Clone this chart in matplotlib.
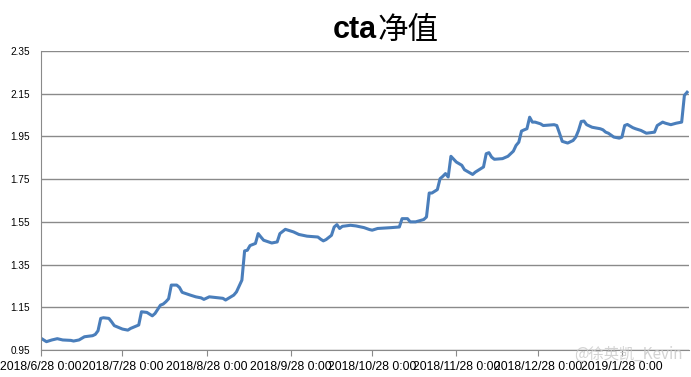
import matplotlib
matplotlib.use("Agg")
import matplotlib.pyplot as plt
import pandas as pd

dates = [
    "2018-06-28", "2018-06-30", "2018-07-02", "2018-07-04", "2018-07-06", "2018-07-09", "2018-07-10",
    "2018-07-12", "2018-07-14", "2018-07-17", "2018-07-18", "2018-07-19", "2018-07-20", "2018-07-21",
    "2018-07-23", "2018-07-24", "2018-07-25", "2018-07-28", "2018-07-30", "2018-07-31", "2018-08-03",
    "2018-08-04", "2018-08-06", "2018-08-08", "2018-08-09", "2018-08-11", "2018-08-12", "2018-08-13",
    "2018-08-14", "2018-08-15", "2018-08-17", "2018-08-18", "2018-08-19", "2018-08-22", "2018-08-24",
    "2018-08-26", "2018-08-27", "2018-08-29", "2018-08-31", "2018-09-03", "2018-09-04", "2018-09-07",
    "2018-09-08", "2018-09-09", "2018-09-10", "2018-09-11", "2018-09-12", "2018-09-13", "2018-09-15",
    "2018-09-16", "2018-09-17", "2018-09-18", "2018-09-21", "2018-09-23", "2018-09-24", "2018-09-26",
    "2018-09-29", "2018-10-01", "2018-10-04", "2018-10-08", "2018-10-09", "2018-10-10", "2018-10-11",
    "2018-10-13", "2018-10-14", "2018-10-15", "2018-10-16", "2018-10-17", "2018-10-20", "2018-10-22",
    "2018-10-25", "2018-10-27", "2018-10-28", "2018-10-30", "2018-11-04", "2018-11-07", "2018-11-08",
    "2018-11-10", "2018-11-11", "2018-11-13", "2018-11-16", "2018-11-17", "2018-11-18", "2018-11-19",
    "2018-11-21", "2018-11-22", "2018-11-23", "2018-11-24", "2018-11-25", "2018-11-26", "2018-11-28",
    "2018-11-30", "2018-12-01", "2018-12-04", "2018-12-05", "2018-12-08", "2018-12-09", "2018-12-10",
    "2018-12-11", "2018-12-12", "2018-12-15", "2018-12-17", "2018-12-19", "2018-12-20", "2018-12-21",
    "2018-12-22", "2018-12-23", "2018-12-24", "2018-12-25", "2018-12-26", "2018-12-27", "2018-12-29",
    "2018-12-30", "2019-01-03", "2019-01-04", "2019-01-05", "2019-01-06", "2019-01-08", "2019-01-10",
    "2019-01-11", "2019-01-12", "2019-01-13", "2019-01-14", "2019-01-15", "2019-01-17", "2019-01-20",
    "2019-01-21", "2019-01-22", "2019-01-23", "2019-01-25", "2019-01-27", "2019-01-28", "2019-01-29",
    "2019-01-30", "2019-02-01", "2019-02-02", "2019-02-04", "2019-02-06", "2019-02-09", "2019-02-10",
    "2019-02-12", "2019-02-13", "2019-02-15", "2019-02-17", "2019-02-19", "2019-02-20", "2019-02-21",
]

nav = [
    1.005, 0.989, 0.997, 1.003, 0.997, 0.995, 0.992,
    0.997, 1.012, 1.017, 1.023, 1.040, 1.098, 1.101,
    1.098, 1.082, 1.064, 1.048, 1.043, 1.051, 1.067,
    1.129, 1.126, 1.110, 1.121, 1.160, 1.165, 1.176,
    1.190, 1.254, 1.254, 1.243, 1.220, 1.207, 1.199,
    1.194, 1.187, 1.199, 1.196, 1.192, 1.184, 1.207,
    1.222, 1.249, 1.277, 1.414, 1.417, 1.439, 1.449,
    1.495, 1.479, 1.464, 1.451, 1.456, 1.495, 1.515,
    1.503, 1.491, 1.483, 1.479, 1.469, 1.461, 1.467,
    1.487, 1.526, 1.537, 1.519, 1.529, 1.534, 1.531,
    1.523, 1.514, 1.511, 1.519, 1.523, 1.526, 1.565,
    1.565, 1.550, 1.550, 1.561, 1.573, 1.685, 1.685,
    1.701, 1.752, 1.763, 1.776, 1.760, 1.857, 1.830,
    1.815, 1.794, 1.772, 1.783, 1.807, 1.869, 1.874,
    1.853, 1.843, 1.846, 1.857, 1.881, 1.908, 1.923,
    1.975, 1.981, 1.986, 2.040, 2.017, 2.017, 2.009,
    2.001, 2.005, 2.001, 1.965, 1.927, 1.919, 1.931,
    1.947, 1.978, 2.020, 2.022, 2.005, 1.993, 1.986,
    1.981, 1.970, 1.965, 1.947, 1.942, 1.947, 2.001,
    2.006, 1.991, 1.986, 1.978, 1.965, 1.970, 2.001,
    2.017, 2.012, 2.005, 2.012, 2.017, 2.142, 2.157,
]

tick_dates = ["2018-06-28", "2018-07-28", "2018-08-28", "2018-09-28",
              "2018-10-28", "2018-11-28", "2018-12-28", "2019-01-28"]
tick_labels = ["2018/6/28 0:00", "2018/7/28 0:00", "2018/8/28 0:00", "2018/9/28 0:00",
               "2018/10/28 0:00", "2018/11/28 0:00", "2018/12/28 0:00", "2019/1/28 0:00"]
y_ticks = [0.95, 1.15, 1.35, 1.55, 1.75, 1.95, 2.15, 2.35]
y_labels = ["0.95", "1.15", "1.35", "1.55", "1.75", "1.95", "2.15", "2.35"]
title_latin = "cta"
title_cjk = "净值"
watermark = "@徐英凯_Kevin"

plt.rcParams['font.family'] = ['Liberation Sans', 'Noto Sans CJK SC', 'DejaVu Sans']

fig = plt.figure(figsize=(6.91, 3.77), dpi=100)
ax = fig.add_axes([41/691, 1 - 350/377, (689 - 41)/691, (350 - 51)/377])

x = pd.to_datetime(dates)
ax.plot(x, nav, color='#4a7ebb', linewidth=2.2, solid_joinstyle='round')

ax.set_ylim(0.95, 2.35)
ax.set_yticks(y_ticks)
ax.set_yticklabels(y_labels, fontsize=7.2)
ax.set_xticks(pd.to_datetime(tick_dates))
ax.set_xticklabels(tick_labels, fontsize=8.8)
start = pd.Timestamp("2018-06-28")
ax.set_xlim(start, start + pd.Timedelta(days=238.7))

ax.grid(axis='y', color='#8a8a8a', linewidth=1.0)
ax.set_axisbelow(True)
for s in ['top', 'right']:
    ax.spines[s].set_visible(False)
ax.spines['left'].set_color('#8a8a8a')
ax.spines['bottom'].set_color('#8a8a8a')
ax.tick_params(axis='y', length=0, pad=8)
ax.tick_params(axis='x', length=4, color='#8a8a8a', pad=4)

# Title: bold latin part followed by regular CJK part, centred as a whole
renderer = fig.canvas.get_renderer()
t1 = fig.text(0, 1 - 30/377, title_latin, ha='left', va='center', fontsize=22,
              fontweight='bold', family=['Liberation Sans', 'DejaVu Sans'])
t2 = fig.text(0, 1 - 30/377, title_cjk, ha='left', va='center', fontsize=22,
              family=['Noto Sans CJK SC', 'DejaVu Sans'])
w1 = t1.get_window_extent(renderer).width
w2 = t2.get_window_extent(renderer).width
left_px = 385 - (w1 + w2) / 2
t1.set_x(left_px / 691)
t2.set_x((left_px + w1 + 1) / 691)

fig.text(628/691, 1 - 354/377, watermark, ha='center', va='center', fontsize=11,
         color='#c8c8c8', alpha=0.8, family=['Noto Sans CJK SC', 'DejaVu Sans'])

fig.savefig("out.png", dpi=100)
